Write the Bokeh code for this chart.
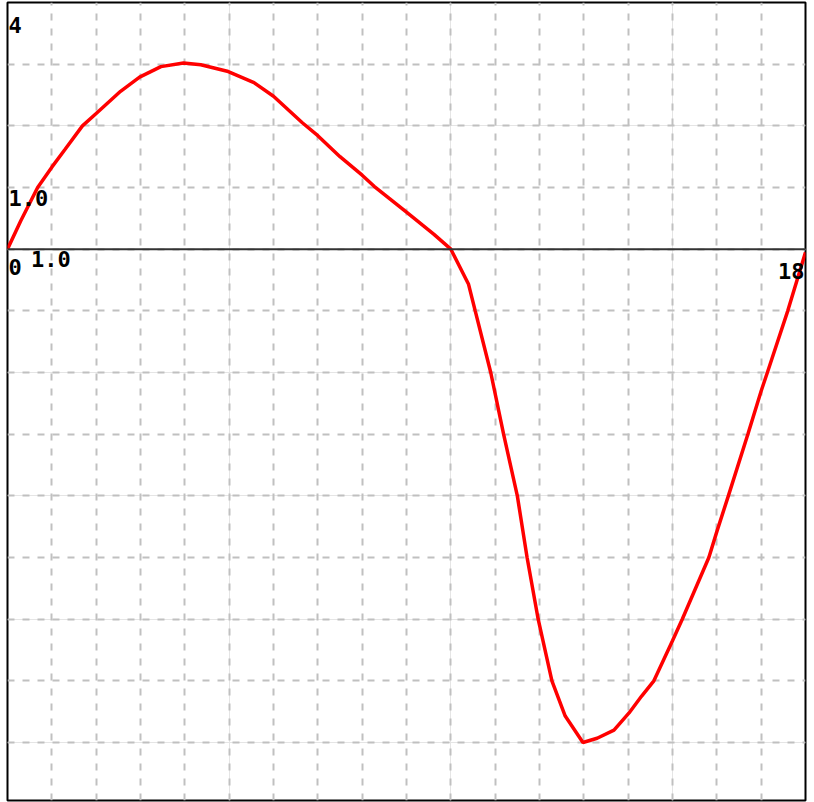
from bokeh.plotting import figure
from bokeh.models import Range1d, Grid, SingleIntervalTicker, Span
from bokeh.core.properties import value
from bokeh.embed import file_html
from bokeh.resources import INLINE

# ---- data ----
curve_x = [0, 0.3, 0.68, 1.0, 1.3, 1.69, 2.0, 2.55, 2.98, 3.46, 3.97, 4.36, 4.98, 5.56,
           6.0, 6.65, 7.0, 7.5, 8.0, 8.27, 9.0, 9.62, 10.0, 10.4, 10.55, 10.9, 11.19,
           11.5, 11.72, 11.97, 12.28, 12.58, 12.98, 13.3, 13.68, 14.02, 14.3, 14.58,
           15.0, 15.22, 15.82, 16.0, 16.26, 16.7, 17.0, 17.14, 17.6, 18.0]
curve_y = [0, 0.46, 1.0, 1.33, 1.62, 2.0, 2.2, 2.56, 2.79, 2.96, 3.02, 2.99, 2.88, 2.7,
           2.48, 2.05, 1.84, 1.5, 1.2, 1.02, 0.6, 0.24, 0.0, -0.57, -1.0, -2.0, -3.0,
           -4.0, -5.0, -6.0, -7.0, -7.57, -8.0, -7.93, -7.8, -7.52, -7.25, -7.0,
           -6.35, -6.0, -5.0, -4.58, -4.0, -3.0, -2.3, -2.0, -1.0, -0.05]

x_min, x_max = 0, 18
y_min, y_max = -8.94, 4

# axis labels
ymax_label = ["4"]
ytick_label = ["1.0"]
xtick_label = ["1.0"]
origin_label = ["0"]
xmax_label = ["18"]

p = figure(width=814, height=802,
           x_range=Range1d(x_min, x_max), y_range=Range1d(y_min, y_max),
           output_backend="svg", toolbar_location=None,
           x_axis_location=None, y_axis_location=None,
           min_border_left=7, min_border_right=9, min_border_top=2, min_border_bottom=2)
p.outline_line_color = "black"
p.outline_line_width = 2
p.background_fill_color = "white"
p.border_fill_color = "white"

for dim in (0, 1):
    p.add_layout(Grid(dimension=dim, ticker=SingleIntervalTicker(interval=1, num_minor_ticks=0),
                      grid_line_color="#c0c0c0", grid_line_width=2, grid_line_dash="7 8"))

p.add_layout(Span(location=0, dimension="width", line_color="#333333", line_width=2))

p.line(curve_x, curve_y, line_color="#ff0000", line_width=3.5)

font = value("DejaVu Sans Mono")
common = dict(text_font=font, text_font_style="bold", text_font_size="22px", text_color="black")

p.text(x=[x_min], y=[y_max], text=ymax_label, text_align="left", text_baseline="alphabetic",
       x_offset=1, y_offset=22, **common)
p.text(x=[x_min], y=[1], text=ytick_label, text_align="left", text_baseline="alphabetic",
       x_offset=1, y_offset=10, **common)
p.text(x=[1], y=[0], text=xtick_label, text_align="center", text_baseline="alphabetic",
       x_offset=-1, y_offset=10, **common)
p.text(x=[x_min], y=[0], text=origin_label, text_align="left", text_baseline="alphabetic",
       x_offset=1, y_offset=18, **common)
p.text(x=[x_max], y=[0], text=xmax_label, text_align="right", text_baseline="alphabetic",
       x_offset=-1, y_offset=22, **common)

open("out.html", "w").write(file_html(p, INLINE))
